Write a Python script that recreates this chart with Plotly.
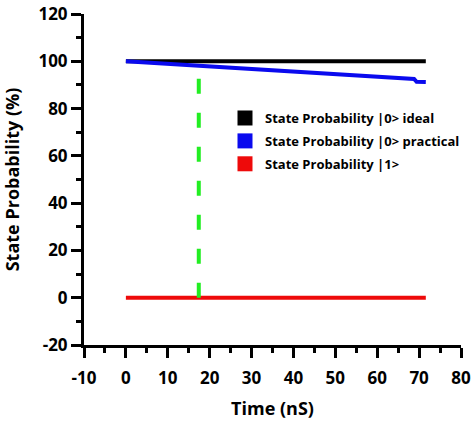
import plotly.graph_objects as go

time_ideal = [0, 71.6]
prob_ideal = [100, 100]
time_practical = [0, 10, 20, 30, 40, 50, 60, 68.8, 69.4, 70.2, 71.6]
prob_practical = [100, 98.9, 97.8, 96.7, 95.7, 94.6, 93.5, 92.5, 91.3, 91.2, 91.2]
time_one = [0, 71.6]
prob_one = [0, 0]
marker_time = [17.4, 17.4]
marker_prob = [0, 96.5]

x_ticks = [-10, 0, 10, 20, 30, 40, 50, 60, 70, 80]
y_ticks = [-20, 0, 20, 40, 60, 80, 100, 120]

names = ["State Probability |0> ideal", "State Probability |0> practical", "State Probability |1>"]
colors = ["#000000", "#0a0aee", "#ee0a0a"]

FONT = "Open Sans"
fig = go.Figure()
fig.add_trace(go.Scatter(x=time_ideal, y=prob_ideal, mode="lines",
                         line=dict(color=colors[0], width=4), showlegend=False))
fig.add_trace(go.Scatter(x=time_practical, y=prob_practical, mode="lines",
                         line=dict(color=colors[1], width=4), showlegend=False))
fig.add_trace(go.Scatter(x=time_one, y=prob_one, mode="lines",
                         line=dict(color=colors[2], width=4), showlegend=False))
fig.add_trace(go.Scatter(x=marker_time, y=marker_prob, mode="lines",
                         line=dict(color="#22ee22", width=4, dash="15px,19px"), showlegend=False))
for i, (n, c) in enumerate(zip(names, colors)):
    fig.add_trace(go.Scatter(x=[None], y=[None], mode="markers", name=n, legendgroup=f"g{i}",
                             marker=dict(symbol="square", size=15, color=c)))

axis_common = dict(showgrid=False, zeroline=False, showline=True, linewidth=3, linecolor="black",
                   ticks="outside", ticklen=10, tickwidth=3, tickcolor="black", automargin=False,
                   tickfont=dict(family=FONT, size=17, color="black", weight=700),
                   minor=dict(ticks="outside", ticklen=5, tickwidth=3, tickcolor="black"))
fig.update_xaxes(range=[-10, 80], tickvals=x_ticks, ticktext=[str(v) for v in x_ticks], minor_dtick=5,
                 ticklabelstandoff=6,
                 title=dict(text="Time (nS)", font=dict(family=FONT, size=18, color="black", weight=700), standoff=14),
                 **axis_common)
fig.update_yaxes(range=[-20, 120], tickvals=y_ticks, ticktext=[str(v) for v in y_ticks], minor_dtick=10,
                 title=dict(text="State Probability (%)", font=dict(family=FONT, size=18, color="black", weight=700), standoff=16),
                 **axis_common)
fig.update_layout(width=474, height=424, margin=dict(l=84, r=13, t=14, b=79, autoexpand=False),
                  plot_bgcolor="white", paper_bgcolor="white",
                  legend=dict(x=0.374, y=0.731, xanchor="left", yanchor="top", bgcolor="rgba(0,0,0,0)",
                              font=dict(family=FONT, size=13, color="black", weight=700),
                              itemwidth=30, tracegroupgap=3))
fig.write_html("out.html")
